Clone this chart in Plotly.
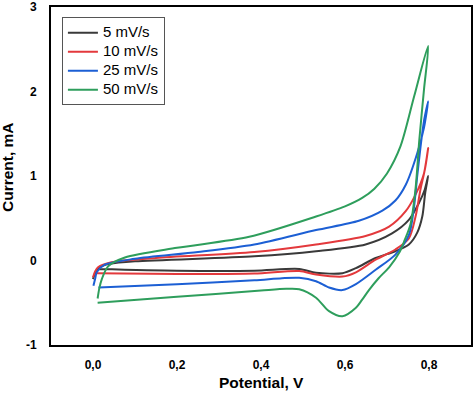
import plotly.graph_objects as go

# ---- data ----
series_names = ["5 mV/s", "10 mV/s", "25 mV/s", "50 mV/s"]
series_colors = ["#3a3a3a", "#e3393c", "#1c5fd4", "#2e9e5c"]

# forward (upper) branches and reverse (lower) branches
black_fx = [0.0, 0.005, 0.015, 0.04, 0.1, 0.384, 0.531, 0.649, 0.712, 0.752, 0.776, 0.79, 0.798]
black_fy = [-0.22, -0.15, -0.08, -0.04, -0.01, 0.05, 0.11, 0.19, 0.32, 0.48, 0.68, 0.84, 1.0]
black_rx = [0.798, 0.791, 0.784, 0.772, 0.752, 0.72, 0.673, 0.626, 0.594, 0.531, 0.491, 0.384, 0.2, 0.012]
black_ry = [1.0, 0.80, 0.52, 0.33, 0.19, 0.11, 0.03, -0.09, -0.15, -0.145, -0.10, -0.12, -0.12, -0.10]

red_fx = [0.0, 0.005, 0.012, 0.044, 0.15, 0.384, 0.531, 0.649, 0.705, 0.744, 0.768, 0.788, 0.798]
red_fy = [-0.20, -0.13, -0.08, -0.02, 0.03, 0.10, 0.19, 0.29, 0.40, 0.58, 0.78, 1.03, 1.33]
red_rx = [0.798, 0.789, 0.78, 0.768, 0.752, 0.72, 0.673, 0.626, 0.594, 0.531, 0.491, 0.384, 0.2, 0.009]
red_ry = [1.33, 1.05, 0.85, 0.52, 0.26, 0.13, 0.01, -0.14, -0.19, -0.165, -0.125, -0.155, -0.16, -0.15]

blue_fx = [0.001, 0.005, 0.009, 0.028, 0.1, 0.25, 0.384, 0.531, 0.633, 0.689, 0.72, 0.745, 0.772, 0.788, 0.798]
blue_fy = [-0.30, -0.22, -0.14, -0.05, 0.02, 0.10, 0.19, 0.36, 0.47, 0.59, 0.71, 0.90, 1.27, 1.57, 1.885]
blue_rx = [0.798, 0.788, 0.78, 0.772, 0.764, 0.752, 0.72, 0.673, 0.626, 0.594, 0.562, 0.531, 0.491, 0.45, 0.384, 0.2, 0.013]
blue_ry = [1.885, 1.65, 1.35, 1.0, 0.62, 0.30, 0.07, -0.11, -0.28, -0.35, -0.32, -0.245, -0.205, -0.21, -0.235, -0.28, -0.32]

green_fx = [0.011, 0.015, 0.021, 0.036, 0.076, 0.2, 0.372, 0.531, 0.6, 0.641, 0.67, 0.7, 0.732, 0.765, 0.798]
green_fy = [-0.45, -0.33, -0.22, -0.07, 0.035, 0.15, 0.28, 0.52, 0.64, 0.74, 0.85, 1.03, 1.35, 1.95, 2.54]
green_rx = [0.798, 0.788, 0.777, 0.768, 0.756, 0.742, 0.73, 0.705, 0.68, 0.657, 0.64, 0.626, 0.594, 0.562, 0.531, 0.491, 0.46, 0.4, 0.2, 0.011]
green_ry = [2.54, 2.02, 1.43, 0.85, 0.43, 0.24, 0.10, -0.08, -0.21, -0.35, -0.47, -0.56, -0.66, -0.60, -0.44, -0.34, -0.335, -0.355, -0.43, -0.50]

x_tickvals = [0.0, 0.2, 0.4, 0.6, 0.8]
x_ticktext = ["0,0", "0,2", "0,4", "0,6", "0,8"]
y_tickvals = [-1, 0, 1, 2, 3]
y_ticktext = ["-1", "0", "1", "2", "3"]
x_title = "Potential, V"
y_title = "Current, mA"

loops = [
    (black_fx, black_fy, black_rx, black_ry),
    (red_fx, red_fy, red_rx, red_ry),
    (blue_fx, blue_fy, blue_rx, blue_ry),
    (green_fx, green_fy, green_rx, green_ry),
]

fig = go.Figure()
for name, color, (fx, fy, rx, ry) in zip(series_names, series_colors, loops):
    fig.add_trace(go.Scatter(
        x=list(fx) + list(rx[1:]),
        y=list(fy) + list(ry[1:]),
        mode="lines",
        name='<span style="font-size:15px">' + name + "</span>",
        line=dict(color=color, width=2, shape="spline", smoothing=0.8),
    ))

font_family = "Liberation Sans, Arial, sans-serif"
fig.update_layout(
    width=474, height=395, autosize=False,
    margin=dict(l=51, r=3, t=7, b=50, autoexpand=False),
    paper_bgcolor="white", plot_bgcolor="white",
    font=dict(family=font_family, color="black"),
    showlegend=True,
    legend=dict(
        x=0.026, y=0.97, xanchor="left", yanchor="top",
        bgcolor="white", bordercolor="#555555", borderwidth=1,
        font=dict(size=12, family=font_family, color="black"),
        tracegroupgap=0,
    ),
    xaxis=dict(
        range=[-0.1, 0.9], tickvals=x_tickvals, ticktext=x_ticktext,
        showgrid=False, zeroline=False, showline=True, mirror=True,
        linecolor="black", linewidth=2, ticks="", automargin=False,
        tickfont=dict(size=12, family=font_family, color="black", weight="bold"),
        ticklabelstandoff=8,
    ),
    yaxis=dict(
        range=[-1, 3], tickvals=y_tickvals, ticktext=y_ticktext,
        showgrid=False, zeroline=False, showline=True, mirror=True,
        linecolor="black", linewidth=2, ticks="", automargin=False,
        tickfont=dict(size=12, family=font_family, color="black", weight="bold"),
        ticklabelstandoff=10,
    ),
    annotations=[
        dict(text="<b>" + x_title + "</b>", xref="paper", yref="paper",
             x=0.5, y=-0.112, xanchor="center", yanchor="middle", showarrow=False,
             font=dict(size=15.5, family=font_family, color="black")),
        dict(text="<b>" + y_title + "</b>", xref="paper", yref="paper",
             x=-0.102, y=0.527, xanchor="center", yanchor="middle", showarrow=False,
             textangle=-90, font=dict(size=15.5, family=font_family, color="black")),
    ],
)

fig.write_html(
    "out.html",
    config={"responsive": False, "displayModeBar": False},
    post_script="document.body.style.margin='0';document.body.style.padding='0';document.body.style.overflow='hidden';",
)
